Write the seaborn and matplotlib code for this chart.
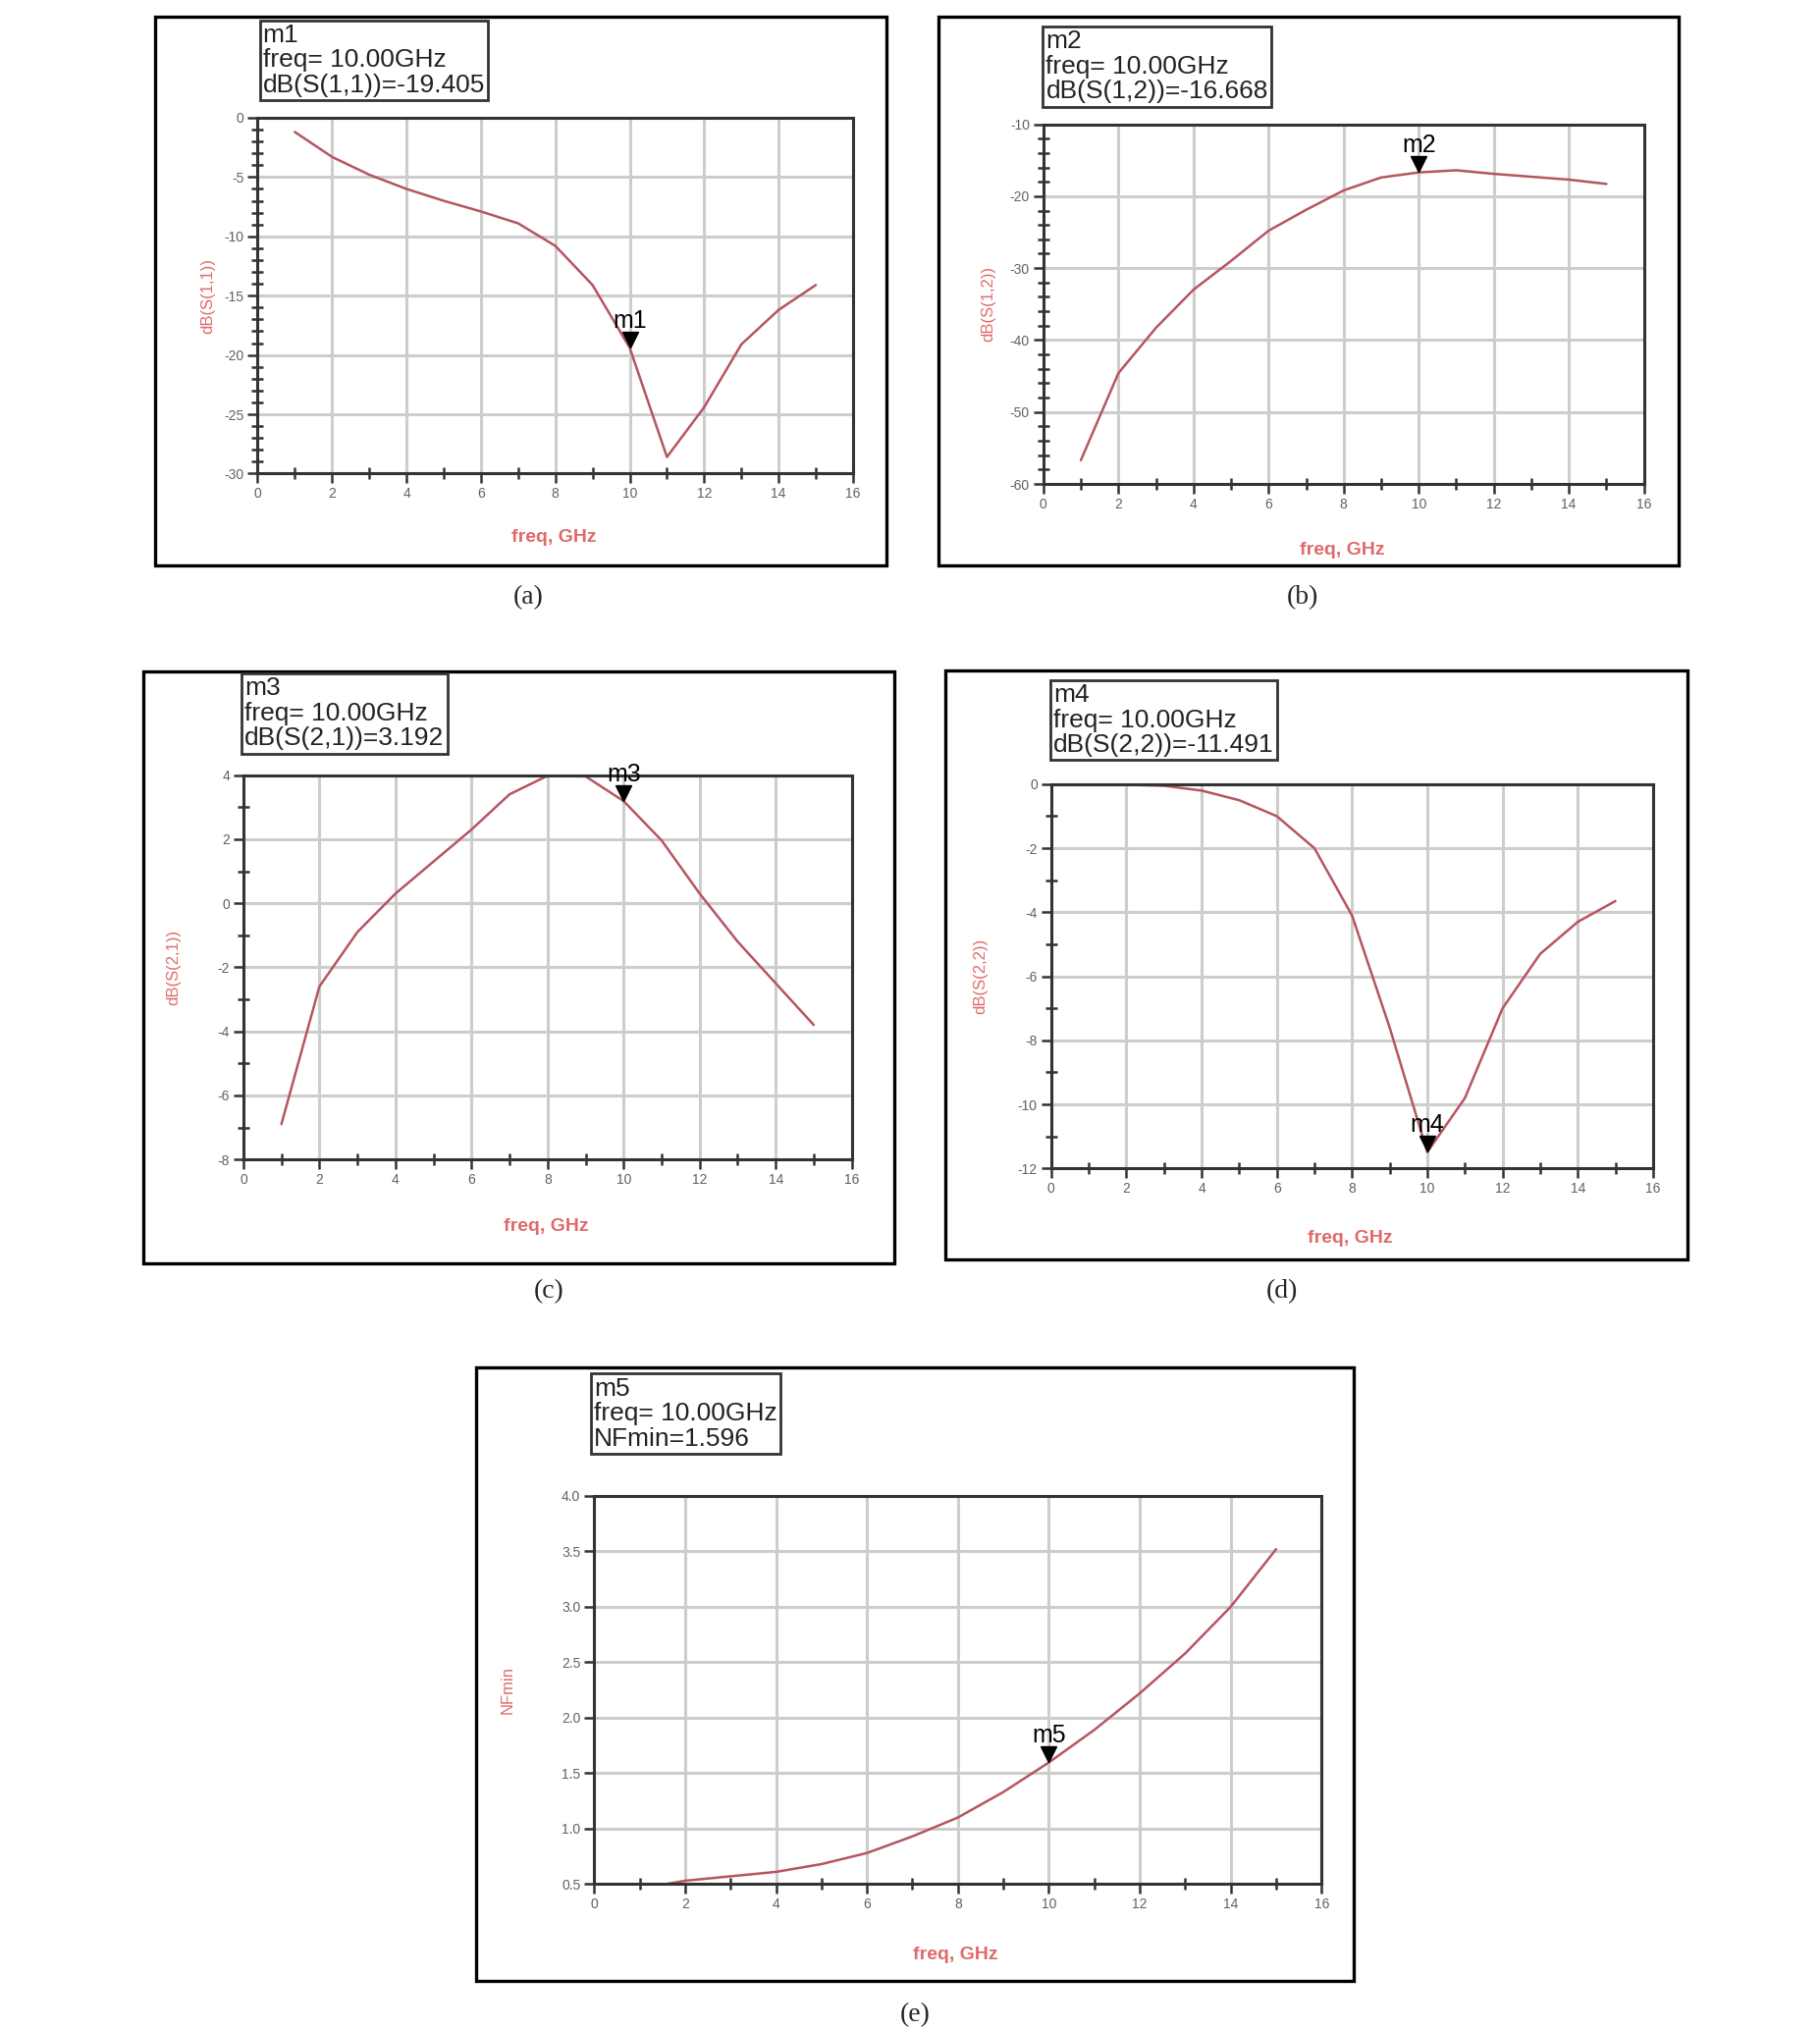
import matplotlib
matplotlib.use("Agg")
import matplotlib.pyplot as plt
import matplotlib.transforms as mtransforms
from matplotlib.patches import Rectangle
from matplotlib.ticker import MultipleLocator, FormatStrFormatter
import numpy as np
import pandas as pd
import seaborn as sns

# swept frequency, GHz
freq = [1, 2, 3, 4, 5, 6, 7, 8, 9, 10, 11, 12, 13, 14, 15]

# traces
s11 = [-1.2, -3.3, -4.8, -6.0, -7.0, -7.9, -8.9, -10.8, -14.1, -19.4, -28.6, -24.4, -19.1, -16.2, -14.1]
s12 = [-56.7, -44.6, -38.3, -33.0, -29.0, -24.8, -21.9, -19.2, -17.4, -16.7, -16.4, -16.9, -17.3, -17.7, -18.3]
s21 = [-6.9, -2.6, -0.9, 0.3, 1.3, 2.3, 3.4, 3.98, 3.96, 3.19, 1.96, 0.3, -1.2, -2.5, -3.8]
s22 = [-0.01, -0.02, -0.05, -0.2, -0.5, -1.0, -2.0, -4.1, -7.6, -11.49, -9.8, -7.0, -5.3, -4.3, -3.65]
nf_min = [0.46, 0.53, 0.57, 0.61, 0.68, 0.78, 0.93, 1.10, 1.33, 1.596, 1.89, 2.22, 2.58, 3.0, 3.52]

traces = [s11, s12, s21, s22, nf_min]
trace_names = ["dB(S(1,1))", "dB(S(1,2))", "dB(S(2,1))", "dB(S(2,2))", "NFmin"]
marker_names = ["m1", "m2", "m3", "m4", "m5"]
marker_freq = 10.0
marker_values = [-19.405, -16.668, 3.192, -11.491, 1.596]
marker_texts = ["dB(S(1,1))=-19.405", "dB(S(1,2))=-16.668", "dB(S(2,1))=3.192",
                "dB(S(2,2))=-11.491", "NFmin=1.596"]
captions = ["(a)", "(b)", "(c)", "(d)", "(e)"]
y_limits = [(-30, 0), (-60, -10), (-8, 4), (-12, 0), (0.5, 4.0)]
y_major = [5, 10, 2, 2, 0.5]
y_minor = [1, 2, 1, 1, None]

# layout in pixels of a 1406x1568 view: outer box, axes box, marker box corner, caption,
# xlabel y (axes fraction), ylabel x (axes fraction)
W, H = 1406.0, 1568.0
layout = [
    dict(box=(120, 13, 685, 437), ax=(199, 91, 659, 366), mbox=(203, 18), cap=(408, 462), xl=-0.18, yl=-0.083),
    dict(box=(725, 13, 1297, 437), ax=(806, 96, 1270, 374), mbox=(808, 23), cap=(1006, 462), xl=-0.183, yl=-0.092),
    dict(box=(111, 519, 691, 976), ax=(188, 599, 658, 896), mbox=(189, 523), cap=(424, 998), xl=-0.175, yl=-0.115),
    dict(box=(730, 518, 1304, 973), ax=(812, 606, 1277, 903), mbox=(814, 528), cap=(990, 998), xl=-0.182, yl=-0.118),
    dict(box=(368, 1057, 1046, 1531), ax=(459, 1156, 1021, 1456), mbox=(459, 1064), cap=(707, 1557), xl=-0.183, yl=-0.119),
]

sns.set_style("white")
plt.rcParams['font.family'] = ['Liberation Sans', 'DejaVu Sans']
plt.rcParams['axes.unicode_minus'] = False

line_color = "#b65560"
label_color = "#e06a6a"

fig = plt.figure(figsize=(18.54, 20.67), dpi=100)


def fx(x):
    return x / W


def fy(y):
    return 1 - y / H


for i in range(5):
    lay = layout[i]
    bl, bt, br, bb = lay['box']
    fig.add_artist(Rectangle((fx(bl), fy(bb)), fx(br) - fx(bl), fy(bt) - fy(bb),
                             transform=fig.transFigure, fill=False, edgecolor='black', linewidth=2.4))
    al, at, ar, ab = lay['ax']
    ax = fig.add_axes([fx(al), fy(ab), fx(ar) - fx(al), fy(at) - fy(ab)])

    df = pd.DataFrame({'freq': freq, 'val': traces[i]})
    sns.lineplot(data=df, x='freq', y='val', ax=ax, color=line_color, linewidth=1.8)

    ax.set_xlim(0, 16)
    ax.set_ylim(*y_limits[i])
    ax.xaxis.set_major_locator(MultipleLocator(2))
    ax.xaxis.set_minor_locator(MultipleLocator(1))
    ax.yaxis.set_major_locator(MultipleLocator(y_major[i]))
    if y_minor[i] is not None:
        ax.yaxis.set_minor_locator(MultipleLocator(y_minor[i]))
    if i == 4:
        ax.yaxis.set_major_formatter(FormatStrFormatter('%.1f'))

    ax.grid(True, which='major', color='#cdcdcd', linewidth=2.2)
    ax.set_axisbelow(True)
    for sp in ax.spines.values():
        sp.set_visible(True)
        sp.set_color('#333333')
        sp.set_linewidth(2.2)
    ax.tick_params(which='major', direction='out', length=7, width=1.8, color='#333333',
                   labelsize=10, labelcolor='#606060', bottom=True, left=True, pad=3)
    ax.tick_params(which='minor', direction='inout', length=9, width=1.8, color='#333333',
                   bottom=True, left=True)

    ax.set_xlabel('freq, GHz', color=label_color, fontsize=14, fontweight='bold')
    ax.xaxis.set_label_coords(0.497, lay['xl'])
    ax.xaxis.label.set_va('center')
    ax.set_ylabel(trace_names[i], color=label_color, fontsize=12)
    ax.yaxis.set_label_coords(lay['yl'], 0.5)
    ax.yaxis.label.set_va('center')

    # marker triangle sitting on the trace, name above it
    tri = ax.transData + mtransforms.ScaledTranslation(0, 6 / 72, fig.dpi_scale_trans)
    ax.plot([marker_freq], [marker_values[i]], marker='v', color='black', markersize=11,
            transform=tri, clip_on=False)
    ax.annotate(marker_names[i], (marker_freq, marker_values[i]), xytext=(0, 11),
                textcoords='offset points', ha='center', va='bottom', fontsize=18,
                color='black', annotation_clip=False)

    # marker readout box
    mx, my = lay['mbox']
    fig.text(fx(mx), fy(my), marker_names[i] + "\nfreq= 10.00GHz\n" + marker_texts[i],
             ha='left', va='top', fontsize=19, linespacing=1.08, color='#222222',
             bbox=dict(boxstyle='square,pad=0.12', facecolor='white', edgecolor='#333333', linewidth=2))

    cx, cy = lay['cap']
    fig.text(fx(cx), fy(cy), captions[i], ha='center', va='center', fontsize=20,
             family=['Liberation Serif', 'DejaVu Serif'])

fig.savefig("out.png", dpi=100, facecolor='white')
